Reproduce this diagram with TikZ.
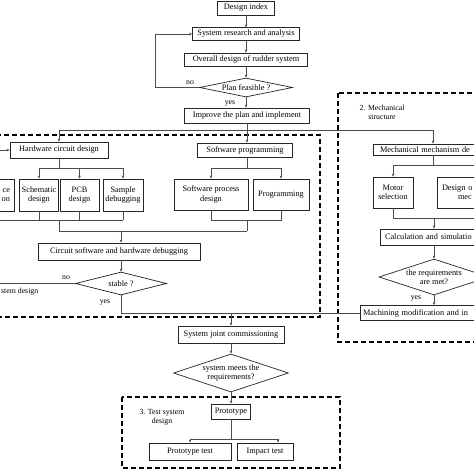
\documentclass[tikz,border=0pt]{standalone}
\usepackage{fontspec}
\setmainfont{Liberation Serif}
\usetikzlibrary{arrows.meta,shapes.geometric}
\begin{document}
\begin{tikzpicture}[x=1pt,y=-1pt,
  font=\fontsize{8.3}{9.3}\selectfont,
  box/.style={draw=black!85, line width=0.75pt, inner sep=1pt, align=center},
  dia/.style={diamond, draw=black!85, line width=0.7pt, inner sep=0pt, align=center},
  conn/.style={line width=0.55pt, draw=black!70},
  arr/.style={conn, -{Stealth[length=3pt,width=2.6pt]}},
  dbox/.style={draw=black, line width=1.1pt, dash pattern=on 5pt off 3pt},
  lbl/.style={inner sep=0pt, font=\fontsize{7.8}{8.8}\selectfont, align=center}]
\useasboundingbox (0,0) rectangle (474,474);
\clip (0,0) rectangle (474,474);
\fill[white] (0,0) rectangle (474,474);

% dashed groups
\draw[dbox] (-5,135) rectangle (320,317);
\draw[dbox] (338,93) rectangle (480,342);
\draw[dbox] (122,397) rectangle (340,468);

% top chain
\node[box, minimum width=57pt, minimum height=14pt] (design) at (246,8) {Design index};
\node[box, minimum width=107pt, minimum height=12.5pt] (research) at (246,34) {System research and analysis};
\node[box, minimum width=123pt, minimum height=13pt] (overall) at (246,59.5) {Overall design of rudder system};
\node[dia, minimum width=93pt, minimum height=19pt, aspect=4.9] (plan) at (246,87.5) {Plan feasible ?};
\node[box, minimum width=125pt, minimum height=15pt] (improve) at (247,115.5) {Improve the plan and implement};

\draw[arr] (design.south) -- (research.north);
\draw[arr] (research.south) -- (overall.north);
\draw[arr] (overall.south) -- (plan.north);
\coordinate (loopL) at (155,87.5);
\draw[arr] (plan.west) -- (loopL) |- (research.west);
\node[lbl] (no1) at (190,83) {no};
\draw[arr] (plan.south) -- (plan.south |- improve.north);
\node[lbl] (yes1) at (230,104) {yes};

% distribution
\coordinate (dsw) at (247,130);
\coordinate (dhw) at (59,130);
\coordinate (dme) at (433,130);
\draw[conn] (improve.south) -- (dsw);
\draw[conn] (dhw) -- (dme);

% hardware
\node[box, minimum width=98pt, minimum height=16pt] (hw) at (59,150) {Hardware circuit design};
\draw[arr] (dhw) -- (hw.north);
\coordinate (hwin) at (0,150);
\draw[arr] (hwin) -- (hw.west);
\node[box, minimum width=40pt, minimum height=32pt, text width=32pt, align=right] (device) at (-6,195) {ce\\on};
\node[box, minimum width=39pt, minimum height=32pt] (schem) at (39,195) {Schematic\\design};
\node[box, minimum width=39pt, minimum height=32pt] (pcb) at (79.5,195) {PCB\\design};
\node[box, minimum width=40pt, minimum height=32pt] (sample) at (123,195) {Sample\\debugging};
\coordinate (hwsplit) at (59,168);
\coordinate (hwL) at (39,168);
\coordinate (hwR) at (123,168);
\draw[conn] (hw.south) -- (hwsplit);
\draw[conn] (hwL) -- (hwR);
\draw[arr] (hwL) -- (schem.north);
\draw[arr] (pcb.north |- hwL) -- (pcb.north);
\draw[arr] (hwR) -- (sample.north);
\coordinate (hwB) at (0,220);
\coordinate (hwBR) at (123,220);
\coordinate (hwJ) at (59,220);
\draw[conn] (schem.south) -- (schem.south |- hwB);
\draw[conn] (pcb.south) -- (pcb.south |- hwB);
\draw[conn] (sample.south) -- (hwBR);
\draw[conn] (hwB) -- (hwBR);
\coordinate (J1) at (59,231);
\coordinate (J2) at (247,231);
\coordinate (J3) at (121,231);
\draw[conn] (hwJ) -- (J1) -- (J2);

% software
\node[box, minimum width=95pt, minimum height=14pt] (sw) at (245,150) {Software programming};
\draw[arr] (dsw) -- (dsw |- sw.north);
\node[box, minimum width=74pt, minimum height=31pt] (swproc) at (211,194.5) {Software process\\design};
\node[box, minimum width=56pt, minimum height=31pt] (prog) at (281,194.5) {Programming};
\coordinate (swsplit) at (247,168);
\coordinate (swL) at (211,168);
\coordinate (swR) at (281,168);
\draw[conn] (dsw |- sw.south) -- (swsplit);
\draw[conn] (swL) -- (swR);
\draw[arr] (swL) -- (swproc.north);
\draw[arr] (swR) -- (prog.north);
\coordinate (swBL) at (211,220);
\coordinate (swBR) at (281,220);
\coordinate (swBC) at (247,220);
\draw[conn] (swproc.south) -- (swBL) -- (swBR) -- (prog.south);
\draw[conn] (swBC) -- (J2);

% debugging
\node[box, minimum width=162pt, minimum height=17pt] (debug) at (119,251.5) {Circuit software and hardware debugging};
\draw[arr] (J3) -- (J3 |- debug.north);
\node[dia, minimum width=91pt, minimum height=23pt, aspect=4] (stable) at (121,283.5) {stable ?};
\draw[arr] (debug.south -| J3) -- (stable.north);
\coordinate (stno) at (-5,283.5);
\draw[conn] (stable.west) -- (stno);
\node[lbl] (no2) at (66,278) {no};
\node[lbl, anchor=west] (ctl) at (1,292) {stem design};
\node[lbl] (yes2) at (105,302) {yes};

% mechanical
\node[lbl] (mechlbl) at (382,112) {2. Mechanical\\structure};
\node[box, minimum height=11pt, text width=106pt, inner xsep=7pt, align=left] (mech) at (433,149.5) {Mechanical mechanism de};
\draw[arr] (dme) -- (mech.north);
\node[box, minimum width=40pt, minimum height=31pt] (motor) at (393,192.5) {Motor\\selection};
\node[box, minimum height=31pt, text width=68pt, inner xsep=5pt, align=left] (designof) at (476,192.5) {Design o\\\hspace*{16pt}mec};
\coordinate (mS) at (433,165);
\coordinate (mL) at (393,165);
\coordinate (mR) at (480,165);
\draw[conn] (mech.south) -- (mS);
\draw[conn] (mL) -- (mR);
\draw[arr] (mL) -- (motor.north);
\coordinate (mB) at (393,218);
\coordinate (mBR) at (480,218);
\coordinate (mBC) at (434,218);
\draw[conn] (motor.south) -- (mB) -- (mBR);
\node[box, minimum height=16pt, text width=98pt, inner xsep=5pt, align=left] (calc) at (434,237) {Calculation and simulatio};
\draw[arr] (mBC) -- (calc.north);
\node[dia, minimum width=110pt, minimum height=36pt, aspect=3] (req) at (434,277) {the requirements\\are met?};
\draw[arr] (calc.south) -- (req.north);
\node[box, minimum height=15pt, text width=142pt, inner xsep=3pt, align=left] (machining) at (434,313) {Machining modification and in};
\draw[arr] (req.south) -- (machining.north);
\node[lbl] (yes3) at (416,298) {yes};

% joint commissioning
\coordinate (stY) at (121,313);
\coordinate (jn) at (231,313);
\draw[conn] (stable.south) -- (stY) -- (jn);
\draw[conn] (machining.west) -- (jn);
\node[box, minimum width=106pt, minimum height=17pt] (joint) at (231,334.5) {System joint commissioning};
\draw[arr] (jn) -- (joint.north);
\node[dia, minimum width=115pt, minimum height=38pt, aspect=3] (meets) at (231,373) {system meets the\\requirements?};
\draw[arr] (joint.south) -- (meets.north);

% test system
\node[lbl] (testlbl) at (162,417) {3. Test system\\design};
\node[box, minimum width=39pt, minimum height=15pt] (proto) at (231,411.5) {Prototype};
\draw[arr] (meets.south) -- (proto.north);
\node[box, minimum width=82pt, minimum height=17pt] (ptest) at (190,451.5) {Prototype test};
\node[box, minimum width=56pt, minimum height=17pt] (impact) at (265,451.5) {Impact test};
\coordinate (pS) at (231,439);
\coordinate (pL) at (190,439);
\coordinate (pR) at (278,439);
\draw[conn] (proto.south) -- (pS);
\draw[conn] (pL) -- (pR);
\draw[arr] (pL) -- (ptest.north);
\draw[arr] (pR) -- (pR |- impact.north);
\end{tikzpicture}
\end{document}
